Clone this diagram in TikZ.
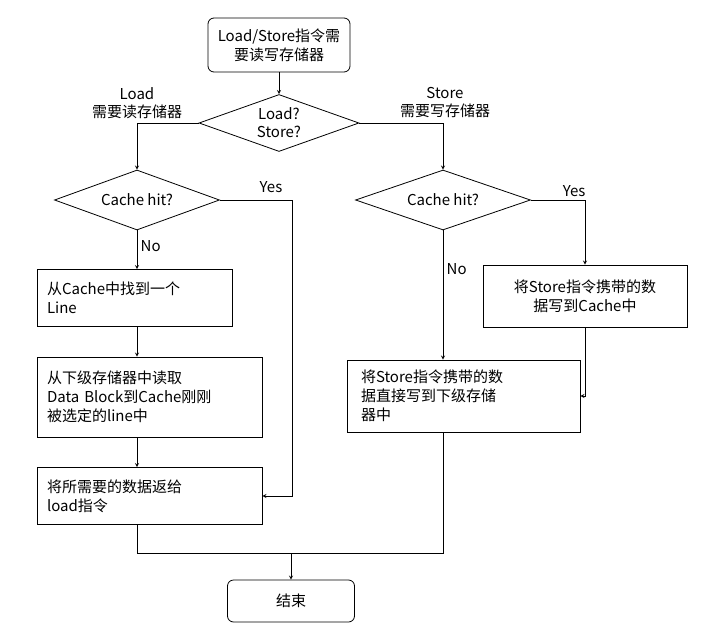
\documentclass[tikz,border=0pt]{standalone}
\usepackage{fontspec}
\setmainfont{Liberation Serif}
\newfontfamily\cjk{Noto Sans CJK SC}
\usetikzlibrary{shapes.geometric, positioning, arrows}
\tikzset{
>=stealth, % arrow tips
box/.style={draw, thick, align=center, font=\cjk\fontsize{15}{19}\selectfont, inner sep=3pt},
term/.style={box, rounded corners=6pt},
test/.style={draw, thick, diamond, aspect=3.3, align=center, inner sep=1pt, font=\cjk\fontsize{15}{18}\selectfont},
lbl/.style={align=center, font=\cjk\fontsize{15}{18}\selectfont},
}
\begin{document}
\begin{tikzpicture}[x=1pt, y=-1pt, thick]
\useasboundingbox (0,0) rectangle (725,634);

            \node[term, minimum width=142pt, minimum height=54pt] (start) at (279,45) {Load/Store指令需\\要读写存储器};
            \node[test, minimum width=160pt, minimum height=57pt] (ls) at (279,123) {Load?\\Store?};
            \node[lbl] at (137,103) {Load\\需要读存储器};
            \node[lbl] at (445,103) {Store\\需要写存储器};

            % load side
            \node[test, minimum width=165pt, minimum height=60pt] (lhit) at (137,200) {Cache hit?};
            \node[box, minimum width=195pt, minimum height=57pt, text width=175pt, align=left] (find) at (134.5,298) {从Cache中找到一个\\Line};
            \node[box, minimum width=225pt, minimum height=80pt, text width=205pt, align=left] (read) at (149.5,397) {从下级存储器中读取\\Data Block到Cache刚刚\\被选定的line中};
            \node[box, minimum width=225pt, minimum height=57pt, text width=205pt, align=left] (ret) at (149.5,496) {将所需要的数据返给\\load指令};

            % store side
            \node[test, minimum width=175pt, minimum height=60pt] (shit) at (443,200) {Cache hit?};
            \node[box, minimum width=204pt, minimum height=62pt] (wc) at (585,296) {将Store指令携带的数\\据写到Cache中};
            \node[box, minimum width=233pt, minimum height=72pt, text width=205pt, align=left] (wm) at (463.5,396) {将Store指令携带的数\\据直接写到下级存储\\器中};

            \node[term, minimum width=127pt, minimum height=42pt] (end) at (291,601) {结束};
            \coordinate (merge) at (291,553);

            \draw[->] (start) -- (ls);
            \draw[->] (ls.west) -| (lhit.north);
            \draw[->] (ls.east) -| (shit.north);

            \draw[->] (lhit.south) -- node[lbl, right, pos=0.4]{No} (find.north -| lhit.south);
            \draw[->] (find.south -| lhit.south) -- (read.north -| lhit.south);
            \draw[->] (read.south -| lhit.south) -- (ret.north -| lhit.south);
            \draw[->] (lhit.east) -- (292,200) node[lbl, above right, pos=0.5, yshift=4pt]{Yes} |- (ret.east);

            \draw[->] (shit.south) -- node[lbl, right, pos=0.3]{No} (wm.north -| shit.south);
            \draw[->] (shit.east) -- node[lbl, above, pos=0.8]{Yes} (wc.north |- shit.east) -- (wc.north);
            \draw[->] (wc.south) |- (wm.east);

            \draw (ret.south -| lhit.south) |- (merge);
            \draw (wm.south -| shit.south) |- (merge);
            \draw[->] (merge) -- (end);
        \end{tikzpicture}
\end{document}
